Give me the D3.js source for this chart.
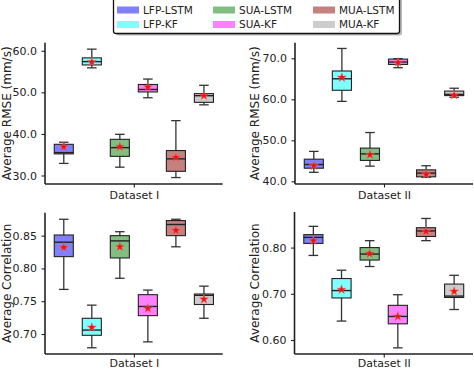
<!DOCTYPE html>
<html><head><meta charset="utf-8">
<script src="https://cdn.jsdelivr.net/npm/d3@7"></script>
<style>
html,body{margin:0;padding:0;background:#fff;}
svg{display:block;font-family:"DejaVu Sans",sans-serif;}
</style></head>
<body><svg id="c" width="474" height="369"></svg>
<script>
// ---- data ----
const methods = ["LFP-LSTM","LFP-KF","SUA-LSTM","SUA-KF","MUA-LSTM","MUA-KF"];
const colors  = ["#8080ff","#80ffff","#80bf80","#ff80ff","#c58080","#cccccc"];
const datasetLabels = ["Dataset I","Dataset II"];

// Dataset I, RMSE
const rmse1Lo   = [32.9, 55.9, 32.0, 48.7, 29.5, 47.0];
const rmse1Q1   = [35.2, 56.6, 34.6, 50.1, 31.0, 47.6];
const rmse1Med  = [35.5, 57.4, 36.7, 50.7, 34.0, 49.2];
const rmse1Q3   = [37.5, 58.3, 38.7, 51.9, 36.0, 49.7];
const rmse1Hi   = [38.0, 60.4, 39.9, 53.2, 43.2, 51.7];
const rmse1Mean = [36.9, 57.3, 36.9, 51.3, 34.3, 49.2];
const rmse1Ticks = [30, 40, 50, 60];

// Dataset II, RMSE
const rmse2Lo   = [42.2, 59.5, 43.7, 67.7, 41.0, 60.5];
const rmse2Q1   = [43.2, 62.2, 45.1, 68.5, 41.1, 60.9];
const rmse2Med  = [44.1, 65.0, 46.7, 69.1, 42.0, 61.2];
const rmse2Q3   = [45.4, 66.9, 48.1, 69.8, 42.8, 62.0];
const rmse2Hi   = [47.3, 72.4, 51.9, 69.9, 43.8, 62.7];
const rmse2Mean = [43.8, 65.3, 46.5, 69.0, 41.7, 61.0];
const rmse2Ticks = [40, 50, 60, 70];

// Dataset I, correlation
const corr1Lo   = [0.768, 0.679, 0.785, 0.688, 0.833, 0.724];
const corr1Q1   = [0.818, 0.698, 0.816, 0.728, 0.850, 0.745];
const corr1Med  = [0.840, 0.706, 0.842, 0.742, 0.867, 0.759];
const corr1Q3   = [0.851, 0.724, 0.850, 0.760, 0.873, 0.761];
const corr1Hi   = [0.875, 0.744, 0.856, 0.767, 0.875, 0.773];
const corr1Mean = [0.832, 0.710, 0.833, 0.739, 0.858, 0.753];
const corr1Ticks = [0.70, 0.75, 0.80, 0.85];

// Dataset II, correlation
const corr2Lo   = [0.783, 0.641, 0.759, 0.583, 0.815, 0.666];
const corr2Q1   = [0.809, 0.691, 0.773, 0.635, 0.824, 0.692];
const corr2Med  = [0.822, 0.707, 0.786, 0.651, 0.836, 0.695];
const corr2Q3   = [0.828, 0.733, 0.800, 0.675, 0.843, 0.721];
const corr2Hi   = [0.846, 0.751, 0.815, 0.698, 0.863, 0.740];
const corr2Mean = [0.815, 0.709, 0.787, 0.651, 0.835, 0.705];
const corr2Ticks = [0.60, 0.70, 0.80];

const svg = d3.select("#c");

function panel(opt){
  const {x0,x1,y0,y1,dom,lo,q1,med,q3,hi,mean,ticks,fmt,ylabel,xlabel,ylabX,xpad} = opt;
  const g = svg.append("g");
  const x = d3.scaleLinear().domain([0.33,6.67]).range([x0,x1]);
  const y = d3.scaleLinear().domain(dom).range([y1,y0]);
  const bw = 0.68, cw = 0.34;
  const idx = d3.range(methods.length);
  const items = g.selectAll("g.box").data(idx).join("g");
  // whiskers
  items.append("line").attr("x1",i=>x(i+1)).attr("x2",i=>x(i+1))
    .attr("y1",i=>y(hi[i])).attr("y2",i=>y(q3[i])).attr("stroke","#333").attr("stroke-width",1.3);
  items.append("line").attr("x1",i=>x(i+1)).attr("x2",i=>x(i+1))
    .attr("y1",i=>y(lo[i])).attr("y2",i=>y(q1[i])).attr("stroke","#333").attr("stroke-width",1.3);
  // caps
  items.append("line").attr("x1",i=>x(i+1-cw/2)).attr("x2",i=>x(i+1+cw/2))
    .attr("y1",i=>y(hi[i])).attr("y2",i=>y(hi[i])).attr("stroke","#333").attr("stroke-width",1.3);
  items.append("line").attr("x1",i=>x(i+1-cw/2)).attr("x2",i=>x(i+1+cw/2))
    .attr("y1",i=>y(lo[i])).attr("y2",i=>y(lo[i])).attr("stroke","#333").attr("stroke-width",1.3);
  // box
  items.append("rect").attr("x",i=>x(i+1-bw/2)).attr("width",i=>x(i+1+bw/2)-x(i+1-bw/2))
    .attr("y",i=>y(q3[i])).attr("height",i=>Math.max(1,y(q1[i])-y(q3[i])))
    .attr("fill",i=>colors[i]).attr("stroke","#222").attr("stroke-width",1.1);
  // median
  items.append("line").attr("x1",i=>x(i+1-bw/2)).attr("x2",i=>x(i+1+bw/2))
    .attr("y1",i=>y(med[i])).attr("y2",i=>y(med[i])).attr("stroke","#222").attr("stroke-width",1.4);
  // mean star
  items.append("path").attr("d",d3.symbol(d3.symbolStar,26))
    .attr("transform",i=>`translate(${x(i+1)},${y(mean[i])})`)
    .attr("fill","#ee1111").attr("stroke","#ff6666").attr("stroke-width",0.5);

  // axes
  const ya = d3.axisLeft(y).tickValues(ticks).tickFormat(d3.format(fmt)).tickSize(3.5).tickPadding(4.5);
  const yg = g.append("g").attr("transform",`translate(${x0},0)`).call(ya);
  const xa = d3.axisBottom(x).tickValues([3.5]).tickFormat(()=>xlabel).tickSize(3.5).tickPadding(xpad);
  const xg = g.append("g").attr("transform",`translate(0,${y1})`).call(xa);
  [yg,xg].forEach(a=>{
    a.select(".domain").attr("stroke","#222").attr("stroke-width",1.6);
    a.selectAll(".tick line").attr("stroke","#222").attr("stroke-width",1.1);
    a.selectAll("text").attr("fill","#222").style("font-size","11px").style("font-family","DejaVu Sans");
  });
  yg.select(".domain").attr("d",`M0,${y0}V${y1}`);
  xg.select(".domain").attr("d",`M${x0},0H${x1}`);
  g.append("text").attr("transform",`translate(${ylabX},${(y0+y1)/2}) rotate(-90)`)
    .attr("text-anchor","middle").attr("fill","#222").style("font-size","12px").text(ylabel);
}

panel({x0:45,x1:222.7,y0:42.7,y1:184,dom:[27.95,61.95],lo:rmse1Lo,q1:rmse1Q1,med:rmse1Med,q3:rmse1Q3,hi:rmse1Hi,mean:rmse1Mean,ticks:rmse1Ticks,fmt:".1f",ylabel:"Average RMSE (mm/s)",xlabel:datasetLabels[0],ylabX:10.5,xpad:4});
panel({x0:295,x1:473,y0:42.7,y1:184,dom:[39.35,73.8],lo:rmse2Lo,q1:rmse2Q1,med:rmse2Med,q3:rmse2Q3,hi:rmse2Hi,mean:rmse2Mean,ticks:rmse2Ticks,fmt:".1f",ylabel:"Average RMSE (mm/s)",xlabel:datasetLabels[1],ylabX:259,xpad:4});
panel({x0:45,x1:222.7,y0:212.7,y1:354,dom:[0.6695,0.885],lo:corr1Lo,q1:corr1Q1,med:corr1Med,q3:corr1Q3,hi:corr1Hi,mean:corr1Mean,ticks:corr1Ticks,fmt:".2f",ylabel:"Average Correlation",xlabel:datasetLabels[0],ylabX:10.5,xpad:2});
panel({x0:294.5,x1:473,y0:212,y1:354,dom:[0.5697,0.877],lo:corr2Lo,q1:corr2Q1,med:corr2Med,q3:corr2Q3,hi:corr2Hi,mean:corr2Mean,ticks:corr2Ticks,fmt:".2f",ylabel:"Average Correlation",xlabel:datasetLabels[1],ylabX:259,xpad:2});

// legend
const lg = svg.append("g");
lg.append("rect").attr("x",116).attr("y",-4).attr("width",286).attr("height",39.5).attr("rx",2.5)
  .attr("fill","#888").attr("opacity",0.6);
lg.append("rect").attr("x",113.5).attr("y",-6).attr("width",286).attr("height",39.5).attr("rx",2.5)
  .attr("fill","#fff").attr("stroke","#111").attr("stroke-width",1.3);
const colX = [117, 213, 313];
const rowY = [10, 24.5];
// legend order: column-major (LSTM row1, KF row2)
methods.forEach((m,i)=>{
  const c = Math.floor(i/2), r = i%2;
  lg.append("rect").attr("x",colX[c]).attr("y",rowY[r]-3.5).attr("width",22).attr("height",7).attr("fill",colors[i]);
  lg.append("text").attr("x",colX[c]+26).attr("y",rowY[r]+3.8).attr("fill","#222")
    .style("font-size","10.5px").text(m);
});
</script></body></html>
